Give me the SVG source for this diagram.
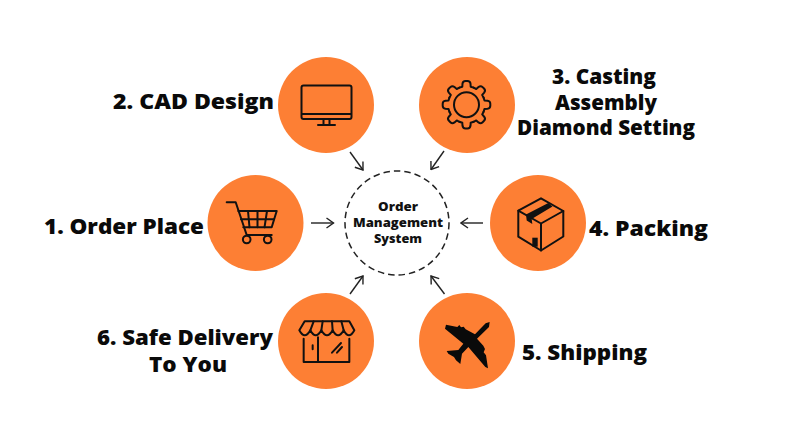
<svg xmlns="http://www.w3.org/2000/svg" width="794" height="447" viewBox="0 0 794 447">
<defs>
<style>
.disc{fill:#fd7f34}
.lbl{font-family:"Open Sans","Liberation Sans",sans-serif;font-weight:800;font-size:20.5px;fill:#0a0a0a}
.mid{font-family:"Open Sans","Liberation Sans",sans-serif;font-weight:800;font-size:11.5px;fill:#111}
.ic{fill:none;stroke:#111;stroke-width:2;stroke-linejoin:round;stroke-linecap:round}
.ar{fill:none;stroke:#222;stroke-width:1.4}
</style>
<marker id="h" viewBox="0 0 12 12" refX="11" refY="6" markerWidth="12" markerHeight="12" markerUnits="userSpaceOnUse" orient="auto"><path d="M4 1L11 6L4 11" fill="none" stroke="#222" stroke-width="1.4"/></marker>
<path id="tooth" d="M-7.080 -17.090L-4.200 -18L-4 -21Q-3.700 -23.800 -1 -23.800H1Q3.700 -23.800 4 -21L4.200 -18L7.080 -17.090"/>
</defs>
<rect width="794" height="447" fill="#fff"/>
<g id="connectors">
<line class="ar" x1="311" y1="223" x2="333.500" y2="223" marker-end="url(#h)"/>
<line class="ar" x1="350" y1="152" x2="363" y2="170" marker-end="url(#h)"/>
<line class="ar" x1="444" y1="151" x2="431" y2="169.500" marker-end="url(#h)"/>
<line class="ar" x1="483" y1="223" x2="461" y2="223" marker-end="url(#h)"/>
<line class="ar" x1="444.500" y1="294" x2="431" y2="276" marker-end="url(#h)"/>
<line class="ar" x1="350" y1="294" x2="363" y2="276" marker-end="url(#h)"/>
</g>
<g id="center">
<circle cx="397" cy="223" r="52" fill="none" stroke="#222" stroke-width="1.5" stroke-dasharray="6.500 4"/>
<text class="mid"><tspan x="378" y="211" textLength="40" lengthAdjust="spacingAndGlyphs">Order</tspan><tspan x="353" y="227" textLength="90" lengthAdjust="spacingAndGlyphs">Management</tspan><tspan x="374" y="243" textLength="48" lengthAdjust="spacingAndGlyphs">System</tspan></text>
</g>
<g id="node1">
<circle class="disc" cx="255.500" cy="223" r="48"/>
<g class="ic"><path d="M226.700 202.300H235.700L246.700 235H271.700"/><path d="M238.300 211H276.700L271.700 227.300H243.300"/><path d="M248 211L249.500 227.300M257.500 211V227.300M267 211L264.500 227.300M241 219.300H274"/><circle cx="246.700" cy="239.500" r="3.800"/><circle cx="267.700" cy="239.500" r="3.800"/></g>
<text class="lbl" x="44" y="234" textLength="160" lengthAdjust="spacingAndGlyphs">1. Order Place</text>
</g>
<g id="node2">
<circle class="disc" cx="326" cy="105" r="48"/>
<g class="ic"><rect x="301.500" y="85.500" width="50" height="33.500" rx="2"/><path d="M302 114H351M323.500 119V125M329.500 119V125M318 125H335"/></g>
<text class="lbl" x="113" y="109" textLength="161" lengthAdjust="spacingAndGlyphs">2. CAD Design</text>
</g>
<g id="node3">
<circle class="disc" cx="467" cy="105" r="48"/>
<g class="ic" transform="translate(466.500 104.700)"><circle r="12.500"/>
<use href="#tooth"/><use href="#tooth" transform="rotate(45)"/><use href="#tooth" transform="rotate(90)"/><use href="#tooth" transform="rotate(135)"/><use href="#tooth" transform="rotate(180)"/><use href="#tooth" transform="rotate(225)"/><use href="#tooth" transform="rotate(270)"/><use href="#tooth" transform="rotate(315)"/></g>
<text class="lbl"><tspan x="552" y="84" textLength="104" lengthAdjust="spacingAndGlyphs">3. Casting</tspan><tspan x="555" y="110" textLength="102" lengthAdjust="spacingAndGlyphs">Assembly</tspan><tspan x="517" y="135" textLength="178" lengthAdjust="spacingAndGlyphs">Diamond Setting</tspan></text>
</g>
<g id="node4">
<circle class="disc" cx="538" cy="223" r="48"/>
<g class="ic"><path d="M541 198.300L563.300 211V236.500L541 250.500L518.300 236.700V210.700Z"/><path d="M518.300 210.700L541 223.500L563.300 211M541 223.500V250.500"/></g>
<path d="M526 214.500L548.300 203L552.500 206.500L531.700 219L532.300 224L526.700 220.500Z" fill="#111"/>
<rect x="532.300" y="237.700" width="5.400" height="9" fill="#111"/>
<text class="lbl" x="589" y="236" textLength="119" lengthAdjust="spacingAndGlyphs">4. Packing</text>
</g>
<g id="node5">
<circle class="disc" cx="467" cy="341" r="48"/>
<path transform="translate(420 295) scale(.3333)" fill="#0a0a0a" d="M209 81L207 96L171 131L190 152L195 162L191 172L198 181L204 220L196 216L145 156L126 176L121 207L108 196L102 186L85 176L80 168L115 165L130 146L75 101L78 89L112 96L118 90L123 97L131 95L137 103L165 118L197 85Z"/>
<text class="lbl" x="522" y="360" textLength="125" lengthAdjust="spacingAndGlyphs">5. Shipping</text>
</g>
<g id="node6">
<circle class="disc" cx="326" cy="341" r="48"/>
<g class="ic" transform="translate(292 312) scale(.3333)" style="stroke-width:6"><path d="M38 28H172L187 55Q171 85 155 55Q138 85 122 55Q105 85 88 55Q71 85 55 55Q38 85 22 55Z"/><path d="M65 28L55 55M92 28L88 55M120 28L122 55M148 28L155 55"/><path d="M35 80V150H172V80M78 76V150"/><path d="M62 100V112M120 122L147 93M135 122L150 105"/></g>
<text class="lbl"><tspan x="97" y="345" textLength="176" lengthAdjust="spacingAndGlyphs">6. Safe Delivery</tspan><tspan x="149" y="372" textLength="78" lengthAdjust="spacingAndGlyphs">To You</tspan></text>
</g>
</svg>
